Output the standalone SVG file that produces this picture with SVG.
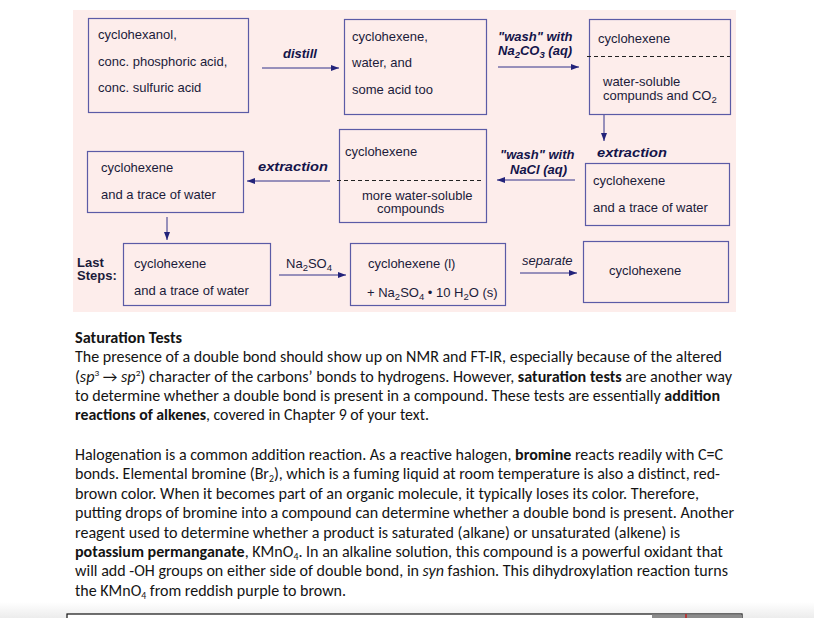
<svg xmlns="http://www.w3.org/2000/svg" width="814" height="618" viewBox="0 0 814 618">
<defs>
<style>
.box{fill:none;stroke:#5b5ba6;stroke-width:1.2}
.t{font-family:'Liberation Sans',Arial,sans-serif;font-size:13px;fill:#1b1b3a}
.lab{font-family:'Liberation Sans',Arial,sans-serif;font-size:13px;font-style:italic;font-weight:bold;fill:#14144a}
.con{stroke:#33338a;stroke-width:1;fill:none;marker-end:url(#ah)}
.dash{stroke:#222;stroke-width:1;stroke-dasharray:4 3;fill:none}
.body{font-family:Carlito,Lato,'Liberation Sans',sans-serif;font-size:15.5px;fill:#141414}
.b{font-weight:bold}
.i{font-style:italic}
</style>
<marker id="ah" markerWidth="8" markerHeight="6" refX="8" refY="3" orient="auto" markerUnits="userSpaceOnUse">
<path d="M0,0 L8,3 L0,6 z" fill="#23237a"/>
</marker>
<linearGradient id="fade" x1="0" y1="0" x2="0" y2="1">
<stop offset="0" stop-color="#ffffff"/>
<stop offset="1" stop-color="#ececec"/>
</linearGradient>
</defs>
<rect width="814" height="618" fill="#ffffff"/>
<rect x="73" y="10" width="663" height="302" fill="#fdedeb"/>

<g id="connectors">
<line class="con" x1="262" y1="68" x2="339" y2="68"/>
<line class="con" x1="498" y1="67" x2="579" y2="67"/>
<line class="con" x1="604" y1="115" x2="604" y2="141"/>
<line class="con" x1="575" y1="180" x2="497" y2="180"/>
<line class="con" x1="330" y1="181" x2="247" y2="181"/>
<line class="con" x1="167" y1="217" x2="167" y2="240"/>
<line class="con" x1="279" y1="275" x2="346" y2="275"/>
<line class="con" x1="520" y1="273" x2="577" y2="273"/>
</g>

<g id="labels">
<text class="lab" x="283" y="58">distill</text>
<text class="lab" x="498" y="41">"wash" with</text>
<text class="lab" x="498" y="55">Na<tspan font-size="9.5" dy="3">2</tspan><tspan dy="-3">CO</tspan><tspan font-size="9.5" dy="3">3</tspan><tspan dy="-3"> (aq)</tspan></text>
<text class="lab" x="597" y="157" textLength="70" lengthAdjust="spacingAndGlyphs">extraction</text>
<text class="lab" x="500" y="159">"wash" with</text>
<text class="lab" x="510" y="174">NaCl (aq)</text>
<text class="lab" x="258" y="171" textLength="70" lengthAdjust="spacingAndGlyphs">extraction</text>
<text class="t" x="77" y="267" font-weight="bold" font-size="12.5">Last</text>
<text class="t" x="77" y="280" font-weight="bold" font-size="12.5">Steps:</text>
<text class="t" x="286" y="268">Na<tspan font-size="9.5" dy="3">2</tspan><tspan dy="-3">SO</tspan><tspan font-size="9.5" dy="3">4</tspan></text>
<text class="t" x="522" y="265" font-style="italic">separate</text>
</g>

<g id="n1">
<rect class="box" x="88.5" y="18.5" width="160" height="94"/>
<text class="t" x="98" y="39">cyclohexanol,</text>
<text class="t" x="98" y="66">conc. phosphoric acid,</text>
<text class="t" x="98" y="92">conc. sulfuric acid</text>
</g>
<g id="n2">
<rect class="box" x="344.5" y="19.5" width="142" height="95"/>
<text class="t" x="352" y="41">cyclohexene,</text>
<text class="t" x="352" y="67">water, and</text>
<text class="t" x="352" y="94">some acid too</text>
</g>
<g id="n3">
<rect class="box" x="589.5" y="19.5" width="141" height="95"/>
<text class="t" x="598" y="43">cyclohexene</text>
<line class="dash" x1="587" y1="56.5" x2="730" y2="56.5"/>
<text class="t" x="603" y="86">water-soluble</text>
<text class="t" x="603" y="100">compunds and CO<tspan font-size="9.5" dy="3">2</tspan></text>
</g>
<g id="n4">
<rect class="box" x="585.5" y="163.5" width="144" height="62"/>
<text class="t" x="593" y="185">cyclohexene</text>
<text class="t" x="593" y="212">and a trace of water</text>
</g>
<g id="n5">
<rect class="box" x="339.5" y="129.5" width="147" height="93"/>
<text class="t" x="345" y="156">cyclohexene</text>
<line class="dash" x1="337" y1="180.5" x2="483" y2="180.5"/>
<text class="t" x="362" y="200">more water-soluble</text>
<text class="t" x="377" y="213">compounds</text>
</g>
<g id="n6">
<rect class="box" x="87.5" y="151.5" width="156" height="61"/>
<text class="t" x="101" y="172">cyclohexene</text>
<text class="t" x="101" y="199">and a trace of water</text>
</g>
<g id="n7">
<rect class="box" x="123.5" y="243.5" width="147" height="62"/>
<text class="t" x="134" y="268">cyclohexene</text>
<text class="t" x="134" y="295">and a trace of water</text>
</g>
<g id="n8">
<rect class="box" x="350.5" y="243.5" width="155" height="62"/>
<text class="t" x="368" y="268">cyclohexene (l)</text>
<text class="t" x="367" y="297">+ Na<tspan font-size="9.5" dy="3">2</tspan><tspan dy="-3">SO</tspan><tspan font-size="9.5" dy="3">4</tspan><tspan dy="-3"> • 10 H</tspan><tspan font-size="9.5" dy="3">2</tspan><tspan dy="-3">O (s)</tspan></text>
</g>
<g id="n9">
<rect class="box" x="583.5" y="241.5" width="145" height="61"/>
<text class="t" x="609" y="275">cyclohexene</text>
</g>

<g id="article">
<text class="body b" x="75" y="343" textLength="107" lengthAdjust="spacingAndGlyphs">Saturation Tests</text>
<text class="body" x="75" y="362" textLength="647" lengthAdjust="spacingAndGlyphs">The presence of a double bond should show up on NMR and FT-IR, especially because of the altered</text>
<text class="body" x="75" y="382" textLength="657" lengthAdjust="spacingAndGlyphs">(<tspan class="i">sp</tspan><tspan font-size="9" dy="-6">3</tspan><tspan dy="6"> → </tspan><tspan class="i">sp</tspan><tspan font-size="9" dy="-6">2</tspan><tspan dy="6">) character of the carbons’ bonds to hydrogens. However, </tspan><tspan class="b">saturation tests</tspan> are another way</text>
<text class="body" x="75" y="401" textLength="645" lengthAdjust="spacingAndGlyphs">to determine whether a double bond is present in a compound. These tests are essentially <tspan class="b">addition</tspan></text>
<text class="body" x="75" y="420" textLength="354" lengthAdjust="spacingAndGlyphs"><tspan class="b">reactions of alkenes</tspan>, covered in Chapter 9 of your text.</text>
<text class="body" x="75" y="460" textLength="648" lengthAdjust="spacingAndGlyphs">Halogenation is a common addition reaction. As a reactive halogen, <tspan class="b">bromine</tspan> reacts readily with C=C</text>
<text class="body" x="75" y="479" textLength="645" lengthAdjust="spacingAndGlyphs">bonds. Elemental bromine (Br<tspan font-size="9.5" dy="3">2</tspan><tspan dy="-3">), which is a fuming liquid at room temperature is also a distinct, red-</tspan></text>
<text class="body" x="75" y="499" textLength="624" lengthAdjust="spacingAndGlyphs">brown color. When it becomes part of an organic molecule, it typically loses its color. Therefore,</text>
<text class="body" x="75" y="518" textLength="659" lengthAdjust="spacingAndGlyphs">putting drops of bromine into a compound can determine whether a double bond is present. Another</text>
<text class="body" x="75" y="538" textLength="605" lengthAdjust="spacingAndGlyphs">reagent used to determine whether a product is saturated (alkane) or unsaturated (alkene) is</text>
<text class="body" x="75" y="557" textLength="648" lengthAdjust="spacingAndGlyphs"><tspan class="b">potassium permanganate</tspan>, KMnO<tspan font-size="9.5" dy="3">4</tspan><tspan dy="-3">. In an alkaline solution, this compound is a powerful oxidant that</tspan></text>
<text class="body" x="75" y="576" textLength="653" lengthAdjust="spacingAndGlyphs">will add -OH groups on either side of double bond, in <tspan class="i">syn</tspan> fashion. This dihydroxylation reaction turns</text>
<text class="body" x="75" y="596" textLength="271" lengthAdjust="spacingAndGlyphs">the KMnO<tspan font-size="9.5" dy="3">4</tspan><tspan dy="-3"> from reddish purple to brown.</tspan></text>
</g>

<g id="page-bottom">
<rect x="0" y="602" width="814" height="16" fill="url(#fade)"/>
<rect x="67" y="614" width="675" height="8" fill="#ffffff" stroke="#111" stroke-width="1.2"/>
<rect x="652" y="614.6" width="90" height="4" fill="#8c8c8c"/>
<line x1="686" y1="614" x2="686" y2="618" stroke="#c02020" stroke-width="1.5"/>
</g>
</svg>
